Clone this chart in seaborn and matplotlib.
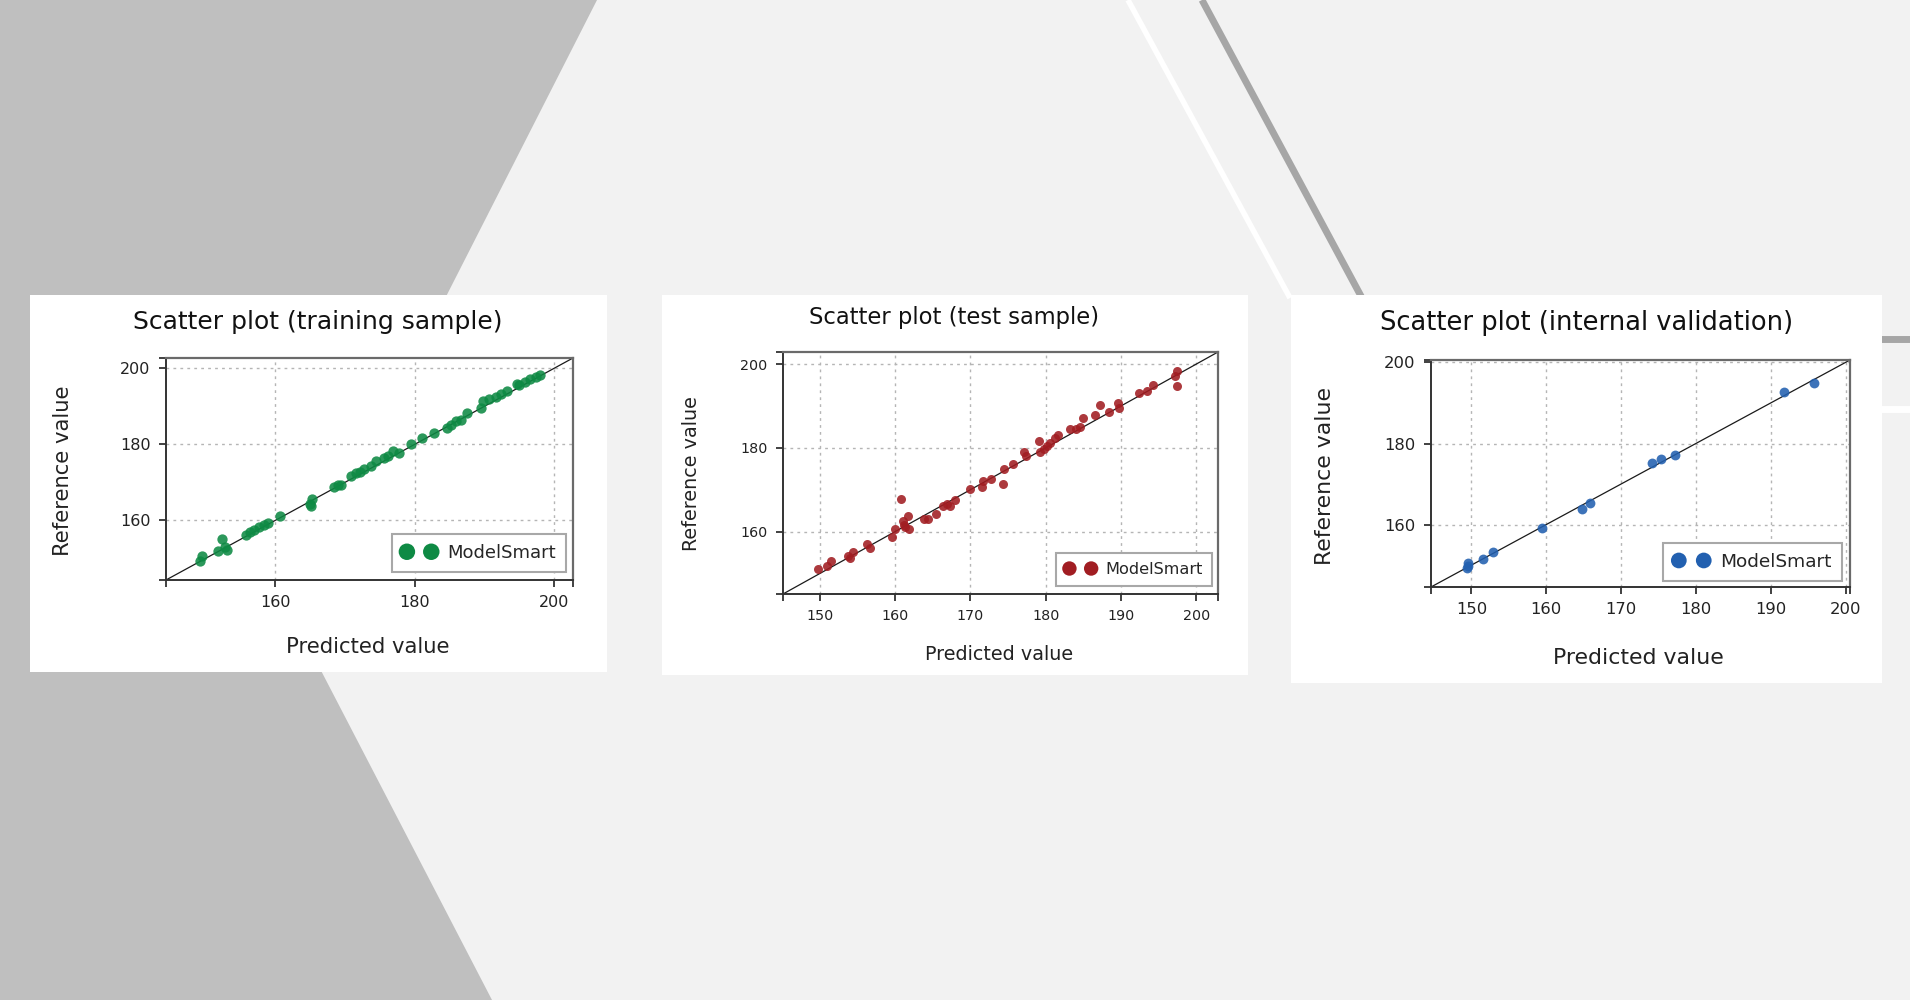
import matplotlib
matplotlib.use("Agg")
import matplotlib.pyplot as plt
from matplotlib.patches import Polygon, Rectangle
import pandas as pd
import seaborn as sns

# ---- data ----
train_pred = [149.2, 149.45, 151.8, 152.4, 152.7, 153.0, 155.8, 156.3, 156.9, 157.7,
              158.4, 159.0, 160.7, 164.9, 165.3, 165.1, 168.4, 169.0, 169.4, 170.8,
              171.5, 172.1, 172.7, 173.7, 174.4, 175.6, 176.2, 176.9, 177.7, 179.4,
              181.0, 182.7, 184.6, 185.2, 185.9, 186.6, 187.5, 189.5, 189.8, 190.6,
              191.6, 192.3, 193.3, 194.7, 195.0, 195.8, 196.6, 197.4, 197.9]
train_ref = [149.2, 150.5, 151.8, 155.2, 153.1, 152.3, 156.2, 156.8, 157.5, 158.2,
             158.7, 159.3, 161.2, 164.3, 165.7, 163.7, 168.7, 169.2, 169.4, 171.6,
             172.5, 172.7, 173.4, 174.2, 175.6, 176.4, 176.9, 178.2, 177.8, 180.0,
             181.7, 183.0, 184.2, 185.2, 186.1, 186.5, 188.3, 189.6, 191.4, 191.8,
             192.4, 193.1, 194.0, 195.8, 195.6, 196.3, 197.2, 197.8, 198.3]

test_pred = [149.8, 151.0, 151.5, 153.8, 154.0, 154.4, 156.3, 156.7, 159.6, 160.0,
             160.8, 161.0, 161.2, 161.7, 161.8, 161.3, 163.8, 164.4, 165.4, 166.4,
             166.9, 167.3, 168.0, 169.9, 171.7, 171.5, 172.8, 174.3, 174.5, 175.7,
             177.1, 177.4, 179.1, 179.3, 179.8, 180.2, 180.6, 181.2, 181.7, 183.2,
             184.0, 184.5, 184.9, 186.5, 187.2, 188.4, 189.6, 189.7, 192.4, 193.5,
             194.2, 197.4, 197.2, 197.5]
test_ref = [151.0, 151.8, 153.0, 154.2, 153.6, 155.2, 157.0, 156.0, 158.8, 160.6,
            167.9, 162.5, 161.5, 163.7, 160.7, 161.0, 162.9, 163.1, 164.3, 166.0,
            166.5, 166.0, 167.5, 170.1, 172.2, 170.6, 172.6, 171.4, 175.0, 176.1,
            178.9, 178.1, 181.7, 178.9, 179.8, 180.5, 181.1, 182.4, 183.1, 184.4,
            184.6, 185.0, 187.2, 187.8, 190.2, 188.5, 190.7, 189.5, 193.1, 193.7,
            195.0, 198.3, 197.2, 194.8]

val_pred = [149.4, 149.5, 149.6, 151.5, 152.9, 159.5, 164.8, 165.8, 174.2, 175.4,
            177.2, 191.8, 195.8]
val_ref = [149.3, 150.5, 149.9, 151.5, 153.3, 159.1, 163.9, 165.3, 175.2, 176.3,
           177.1, 192.6, 195.0]

train_lim = (144.3, 202.7)
test_lim = (145.1, 202.9)
val_lim = (144.6, 200.6)

train_xticks = [160, 180, 200]
test_xticks = [150, 160, 170, 180, 190, 200]
val_xticks = [150, 160, 170, 180, 190, 200]
y_ticks = [160, 180, 200]

legend_label = "ModelSmart"

W, H = 1910, 1000

sns.set_style("white")
plt.rcParams["font.family"] = ["DejaVu Sans"]

fig = plt.figure(figsize=(W / 100, H / 100), dpi=100, facecolor="#f2f2f2")

# ---- slide background ----
bg = fig.add_axes([0, 0, 1, 1], zorder=-10)
bg.set_xlim(0, W)
bg.set_ylim(H, 0)
bg.axis("off")
bg.add_patch(Polygon([(0, 0), (597, 0), (288, 607), (492, 1000), (0, 1000)],
                     closed=True, facecolor="#bfbfbf", edgecolor="none", zorder=1))
bg.plot([1128, 1290], [0, 298], color="white", lw=4, solid_capstyle="butt", zorder=2)
bg.plot([1202, 1362], [0, 298], color="#a6a6a6", lw=5, solid_capstyle="butt", zorder=2)
bg.plot([1800, W], [338.5, 338.5], color="#a6a6a6", lw=5, zorder=2)
bg.plot([1800, W], [409, 409], color="white", lw=5, zorder=2)
for x0, y0, x1, y1 in [(30, 295, 607, 672), (662, 295, 1248, 675), (1291, 295, 1882, 683)]:
    bg.add_patch(Rectangle((x0, y0), x1 - x0, y1 - y0, facecolor="white",
                           edgecolor="none", zorder=5))

panels = [
    dict(pred=train_pred, ref=train_ref, lim=train_lim, xticks=train_xticks,
         title="Scatter plot (training sample)", color="#0e8a44",
         box=(166, 573, 358, 580), title_xy=(0.373, 1.126), xlab_xy=(0.496, -0.302),
         ylab_xy=(-0.253, 0.491), leg_xy=(0.983, 0.036),
         fs_title=18, fs_label=15.2, fs_tick=11.5, fs_leg=13, s=55),
    dict(pred=test_pred, ref=test_ref, lim=test_lim, xticks=test_xticks,
         title="Scatter plot (test sample)", color="#a11d22",
         box=(783, 1218, 352, 594), title_xy=(0.393, 1.107), xlab_xy=(0.497, -0.252),
         ylab_xy=(-0.211, 0.496), leg_xy=(0.986, 0.033),
         fs_title=16.3, fs_label=13.8, fs_tick=10.3, fs_leg=11.6, s=42),
    dict(pred=val_pred, ref=val_ref, lim=val_lim, xticks=val_xticks,
         title="Scatter plot (internal validation)", color="#2260b0",
         box=(1431, 1850, 360, 587), title_xy=(0.372, 1.128), xlab_xy=(0.494, -0.313),
         ylab_xy=(-0.253, 0.489), leg_xy=(0.981, 0.026),
         fs_title=18.5, fs_label=15.8, fs_tick=11.8, fs_leg=13.3, s=50),
]

for p in panels:
    l, r, t, b = p["box"]
    ax = fig.add_axes([l / W, 1 - b / H, (r - l) / W, (b - t) / H])
    ax.set_facecolor("white")
    df = pd.DataFrame({"pred": p["pred"], "ref": p["ref"]})
    sns.scatterplot(data=df, x="pred", y="ref", ax=ax, color=p["color"], s=p["s"],
                    linewidth=0, alpha=0.88, label=legend_label, zorder=3)
    ax.axline((p["lim"][0], p["lim"][0]), slope=1, color="#1a1a1a", lw=0.9, zorder=2)
    ax.set_xlim(p["lim"])
    ax.set_ylim(p["lim"])
    ax.set_xticks(p["xticks"])
    ax.set_yticks(y_ticks)
    ax.set_xticks(p["lim"], minor=True)
    ax.set_yticks(p["lim"], minor=True)
    ax.grid(True, which="major", color="#b5b5b5", linestyle=(0, (2, 3)), lw=1)
    ax.tick_params(which="both", direction="out", length=5, width=1.3, color="#333333",
                   bottom=True, left=True, labelsize=p["fs_tick"], labelcolor="#222222", pad=6)
    for side in ["left", "bottom"]:
        ax.spines[side].set_color("#333333")
        ax.spines[side].set_linewidth(1.4)
    for side in ["top", "right"]:
        ax.spines[side].set_color("#6a6a6a")
        ax.spines[side].set_linewidth(1.6)

    ax.set_title(p["title"], fontsize=p["fs_title"], x=p["title_xy"][0], y=p["title_xy"][1],
                 va="center", color="#111111")
    ax.set_xlabel("Predicted value", fontsize=p["fs_label"], va="center", color="#222222")
    ax.xaxis.set_label_coords(*p["xlab_xy"])
    ax.set_ylabel("Reference value", fontsize=p["fs_label"], va="center", color="#222222")
    ax.yaxis.set_label_coords(*p["ylab_xy"])

    leg = ax.legend(loc="lower right", bbox_to_anchor=p["leg_xy"], borderaxespad=0,
                    scatterpoints=2, scatteryoffsets=[0.5], markerscale=1.6,
                    fontsize=p["fs_leg"], handlelength=1.95, handletextpad=0.6,
                    borderpad=0.55, fancybox=False, framealpha=1, edgecolor="#a8a8a8")
    leg.get_frame().set_linewidth(1.5)
    for h in leg.legend_handles:
        h.set_alpha(1)

fig.savefig("out.png", dpi=100, facecolor=fig.get_facecolor())
